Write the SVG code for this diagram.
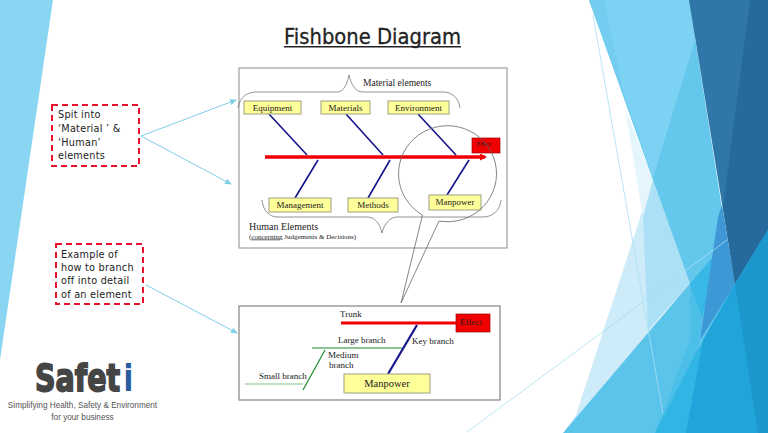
<svg xmlns="http://www.w3.org/2000/svg" width="768" height="433" viewBox="0 0 768 433">
<defs>
<marker id="ah" markerWidth="7" markerHeight="6" refX="6" refY="3" orient="auto" markerUnits="userSpaceOnUse"><path d="M0,0L7,3L0,6Z" fill="#7fcfe8"/></marker>
<marker id="rh" markerWidth="7" markerHeight="7" refX="5" refY="3.5" orient="auto" markerUnits="userSpaceOnUse"><path d="M0,0L7,3.5L0,7Z" fill="#f00000"/></marker>
</defs>
<style>
.sans{font-family:"DejaVu Sans",sans-serif;fill:#222}
.call{font-size:9.700px;letter-spacing:.25px}
.dash{fill:#fff;stroke:#e8112d;stroke-width:2;stroke-dasharray:6 4}
.s{font-family:"Liberation Serif",serif;fill:#222;font-size:9px}
.c{text-anchor:middle}
.yb{fill:#ffff99;stroke:#a0a080;stroke-width:1}
.panel{fill:#fff;stroke:#8c8c8c;stroke-width:1}
.rb{fill:#f00000;stroke:#a00000;stroke-width:.7}
.bl{stroke:#15158c;stroke-width:1.6;fill:none}
.br{fill:none;stroke:#777;stroke-width:.8}
.link{stroke:#7fcfe8;stroke-width:1;fill:none;marker-end:url(#ah)}
.thin{stroke:#a8dff3;stroke-width:.8;fill:none}
.logo{font-family:"DejaVu Sans",sans-serif;font-weight:700;font-size:38px}
</style>
<rect width="768" height="433" fill="#fff"/>
<g id="background">
<polygon points="0,0 53,0 0,360" fill="#8ad6f2"/>
<polygon points="653,178 692,285 563,433 576,415" fill="#cdebf9"/>
<polygon points="625,108 700,300 662,345 643,217" fill="#e4f5fc"/>
<polygon points="653,180 670,228 690,284 648,330 643,217" fill="#abe0f6"/>
<polygon points="589,0 689,0 735,290 720,350 690,284" fill="#64c8ed"/>
<polygon points="604,0 693,0 695,40 653,178 622,88" fill="#7dd1f2"/>
<polygon points="589,0 604,0 622,88 653,178" fill="#74cdf0"/>
<polygon points="563,433 727,240 735,284 700,345 655,433" fill="#5bc4ea"/>
<polygon points="690,284 702,317 698,350 663,433 655,433 690,340" fill="#4cbfe9"/>
<polygon points="727,240 690,284 702,317 718,262" fill="#38b8e6"/>
<polygon points="722,205 735,284 700,340 718,217" fill="#3e98d5"/>
<polygon points="689,0 768,0 768,230 735,284" fill="#2f76a9"/>
<polygon points="750,0 768,0 768,230 735,284 723,207" fill="#266a9d"/>
<polygon points="655,433 700,345 735,284 768,230 768,433" fill="#30b5e5"/>
<polygon points="686,433 703,340 735,284 768,230 768,433" fill="#20a4da"/>
<polygon points="735,284 768,230 768,433 758,433" fill="#1c97cc"/>
<path class="thin" d="M593,15L663,414"/>
<path class="thin" d="M467,432L727,240"/>
</g>
<g id="title">
<text class="sans" x="284" y="44" font-size="21" stroke="#222" stroke-width=".3" textLength="177" lengthAdjust="spacingAndGlyphs">Fishbone Diagram</text>
<rect x="284" y="46" width="177" height="1.500" fill="#222"/>
</g>
<g id="connectors">
<path class="link" d="M141,136L236,100"/>
<path class="link" d="M141,136L231,184"/>
<path class="link" d="M146,285L237,333"/>
</g>
<g id="note-split">
<rect class="dash" x="52" y="105" width="87" height="61"/>
<text class="sans call" x="58" y="118">Spit into</text>
<text class="sans call" x="58" y="132">‘Material ’ &amp;</text>
<text class="sans call" x="58" y="146">‘Human’</text>
<text class="sans call" x="58" y="159">elements</text>
</g>
<g id="note-example">
<rect class="dash" x="56" y="244" width="87" height="60"/>
<text class="sans call" x="61" y="258">Example of</text>
<text class="sans call" x="61" y="271">how to branch</text>
<text class="sans call" x="61" y="284">off into detail</text>
<text class="sans call" x="61" y="298">of an element</text>
</g>
<g id="panel-fishbone">
<rect class="panel" x="239" y="68" width="268" height="180"/>
<path class="br" d="M238,108C240,96 248,92 257,92H337C344,92 347,84 349,75C351,84 355,92 363,92H443C452,92 459,98 460,108"/>
<path class="br" d="M262,200C263,211 270,217 277,217H367C375,217 380,224 382,233C384,224 390,217 397,217H483C492,217 500,211 501,200"/>
<path d="M265,157H485" stroke="#f00000" stroke-width="3.500" marker-end="url(#rh)"/>
<path class="bl" d="M269,114L307,155M346,114L383,155M418,114L456,155M318,160L295,198M390,160L368,198M469,160L447,195"/>
<g id="n-equipment"><rect class="yb" x="244" y="101" width="57" height="13"/><text class="s c" x="272.500" y="111">Equipment</text></g>
<g id="n-materials"><rect class="yb" x="321" y="101" width="49" height="13"/><text class="s c" x="345.500" y="111">Materials</text></g>
<g id="n-environment"><rect class="yb" x="388" y="101" width="61" height="13"/><text class="s c" x="418.500" y="111">Environment</text></g>
<g id="n-management"><rect class="yb" x="269" y="198" width="62" height="14"/><text class="s c" x="300" y="208">Management</text></g>
<g id="n-methods"><rect class="yb" x="348" y="198" width="50" height="14"/><text class="s c" x="373" y="208">Methods</text></g>
<g id="n-manpower"><rect class="yb" x="429" y="195" width="52" height="15"/><text class="s c" x="455" y="205">Manpower</text></g>
<g id="n-effect"><rect class="rb" x="472" y="138" width="28" height="15"/><text class="s c" x="484" y="146" style="font-size:6px">Effect</text></g>
<path d="M422.500,215A49,48 0 1 1 439,221L401,303Z" fill="none" stroke="#666" stroke-width=".8"/>
<text class="s" x="363" y="86" style="font-size:9.500px">Material elements</text>
<text class="s" x="249" y="230" style="font-size:10px">Human Elements</text>
<text class="s" x="249" y="238.500" style="font-size:7px">(<tspan text-decoration="underline">concerning</tspan> Judgements &amp; Decisions)</text>
</g>
<g id="panel-detail">
<rect class="panel" x="239" y="306" width="261" height="94" style="stroke-width:1.300"/>
<path d="M341,323H456" stroke="#f00000" stroke-width="2.800"/>
<path d="M417,325L388,374" stroke="#15158c" stroke-width="2.200"/>
<path d="M312,348H402M325,350L303,390" stroke="#1f8a2e" stroke-width="1.200" fill="none"/>
<path d="M245,384H303" stroke="#7fc48a" stroke-width="1"/>
<g id="n-effect2"><rect class="rb" x="456" y="314" width="34" height="18"/><text class="s c" x="471" y="325">Effect</text></g>
<g id="n-manpower2"><rect class="yb" x="344" y="374" width="86" height="19"/><text class="s c" x="387" y="387" style="font-size:10.500px">Manpower</text></g>
<text class="s" x="340" y="317">Trunk</text>
<text class="s" x="338" y="343">Large branch</text>
<text class="s" x="412" y="344">Key branch</text>
<text class="s" x="328" y="358">Medium</text>
<text class="s" x="329" y="368">branch</text>
<text class="s" x="259" y="379">Small branch</text>
</g>
<g id="logo">
<g transform="translate(35,391) scale(.75,1)">
<text class="logo" x="0" y="0" fill="#454545" stroke="#454545" stroke-width="1.800">Safet</text>
<text class="logo" x="118" y="0" fill="#2a5d9f">i</text>
</g>
<text x="82.500" y="408" text-anchor="middle" font-family="'Liberation Sans',sans-serif" font-size="8.200" fill="#555">Simplifying Health, Safety &amp; Environment</text>
<text x="82.500" y="420" text-anchor="middle" font-family="'Liberation Sans',sans-serif" font-size="8.200" fill="#555">for your business</text>
</g>
</svg>
